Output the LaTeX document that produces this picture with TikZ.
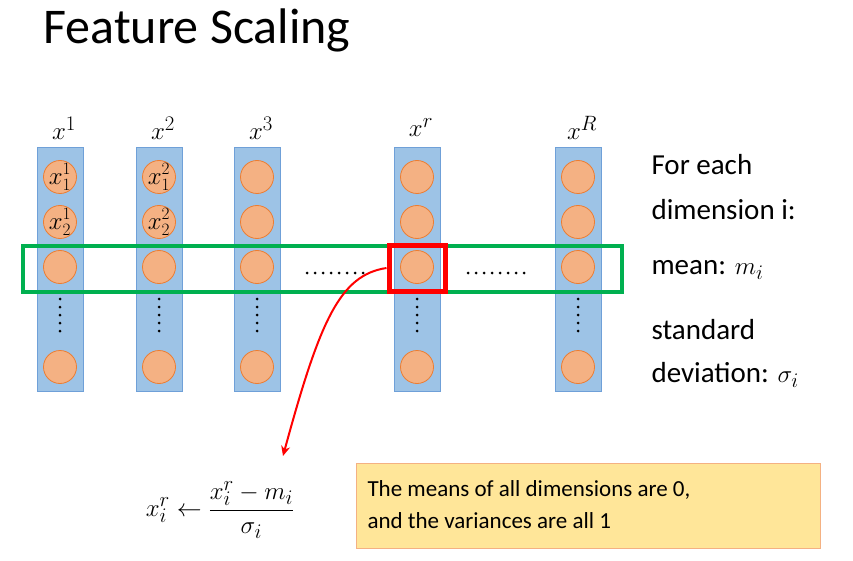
\documentclass[tikz,border=0pt]{standalone}
\usepackage{fontspec}
\setmainfont{Carlito}
\usetikzlibrary{arrows.meta,shapes.geometric}
\definecolor{colfill}{HTML}{9DC3E6}
\definecolor{coldraw}{HTML}{6FA0D8}
\definecolor{cfill}{HTML}{F4B183}
\definecolor{cdraw}{HTML}{ED7D31}
\definecolor{grn}{HTML}{00B050}
\definecolor{ybox}{HTML}{FFE699}
\definecolor{ydraw}{HTML}{F4B183}
\begin{document}
\begin{tikzpicture}[x=1pt,y=-1pt,
  colbox/.style={draw=coldraw,fill=colfill,line width=1pt},
  ball/.style={ellipse,draw=cdraw,fill=cfill,line width=0.8pt,minimum width=33pt,minimum height=33pt,inner sep=0pt},
  lab/.style={font=\fontsize{28}{30}\selectfont},
  rtxt/.style={anchor=west,font=\fontsize{29}{32}\selectfont},
  vdots/.style={line width=3pt,line cap=round,dash pattern=on 0pt off 8pt}]
\useasboundingbox (0,0) rectangle (853,561);
\node[anchor=west,font=\fontsize{50}{54}\selectfont] (title) at (40,30) {Feature Scaling};
\foreach \n/\cx/\myup in {a/60/1,b/159/2,c/257/3,r/417/r,R/578/R}{
  \draw[colbox] (\cx-23,148) rectangle (\cx+23,391);
  \node[lab] (l\n) at (\cx+4,128) {$x^{\myup}$};
  \node[ball] (\n1) at (\cx,177) {};
  \node[ball] (\n2) at (\cx,222) {};
  \node[ball] (\n3) at (\cx,267) {};
  \node[ball] (\n4) at (\cx,367) {};
  \draw[vdots] (\cx,299) -- (\cx,338);
}
\node[font=\fontsize{26}{28}\selectfont] at (a1) {$x_1^1$};
\node[font=\fontsize{26}{28}\selectfont] at (a2) {$x_2^1$};
\node[font=\fontsize{26}{28}\selectfont] at (b1) {$x_1^2$};
\node[font=\fontsize{26}{28}\selectfont] at (b2) {$x_2^2$};
\draw[vdots] (307,273) -- (367,273);
\draw[vdots] (468,273) -- (528,273);
\draw[grn,line width=4pt] (23,246) rectangle (622,292);
\node[draw=red,line width=5pt,minimum width=56pt,minimum height=46pt] (sel) at (417,268) {};
\node[rtxt] (t1) at (648,165) {For each};
\node[rtxt] (t2) at (648,210) {dimension i:};
\node[rtxt] (t3) at (648,270) {mean: $m_i$};
\node[rtxt] (t4) at (648,330) {standard};
\node[rtxt] (t5) at (648,375) {deviation: $\sigma_i$};
\node[font=\fontsize{28}{30}\selectfont] (f) at (220,510) {$\displaystyle x_i^r \leftarrow \frac{x_i^r - m_i}{\sigma_i}$};
\coordinate (tip) at (283,456);
\draw[red,line width=2pt,-{Stealth[length=10pt,width=9pt]}] (sel.west) .. controls (340,275) and (320,320) .. (tip);
\node[draw=ydraw,fill=ybox,line width=1pt,minimum width=464pt,minimum height=85pt,anchor=north west] (box) at (356,463) {};
\node[anchor=west,align=left,font=\fontsize{23}{32}\selectfont] (bt) at (364,505) {The means of all dimensions are 0,\\and the variances are all 1};
\end{tikzpicture}
\end{document}
